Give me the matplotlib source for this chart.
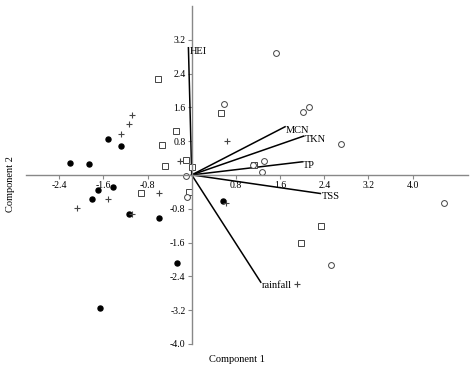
import numpy as np
import matplotlib
matplotlib.use("Agg")
import matplotlib.pyplot as plt

plt.rcParams['font.family'] = ['Liberation Serif', 'DejaVu Serif']

# loading vectors
var_names = ["HEI", "MCN", "TKN", "TP", "TSS", "rainfall"]
var_x = [-0.06, 1.69, 2.03, 2.00, 2.33, 1.25]
var_y = [3.01, 1.14, 0.92, 0.31, -0.44, -2.54]

# scores, one group per marker
dot_x = [-1.52, -1.28, -2.20, -1.86, -1.42, -1.70, -1.80, -1.14, -0.59, -0.27, -1.67, 0.57]
dot_y = [0.86, 0.68, 0.27, 0.25, -0.29, -0.36, -0.56, -0.92, -1.03, -2.09, -3.14, -0.62]

plus_x = [-1.09, -1.14, -1.28, -0.21, 0.64, -0.59, -1.52, -2.07, -1.08, 0.62, 1.91]
plus_y = [1.41, 1.20, 0.98, 0.34, 0.81, -0.42, -0.58, -0.79, -0.93, -0.66, -2.59]

sq_x = [-0.61, -0.28, -0.53, -0.11, -0.49, 0.00, 0.53, 1.12, -0.05, -0.92, 2.34, 1.98]
sq_y = [2.26, 1.05, 0.71, 0.36, 0.22, 0.18, 1.47, 0.23, -0.41, -0.42, -1.22, -1.60]

circ_x = [1.52, 2.01, 2.12, 2.71, 1.30, 1.11, 1.27, 0.59, -0.10, -0.09, 4.56, 2.53]
circ_y = [2.88, 1.49, 1.61, 0.72, 0.34, 0.23, 0.06, 1.67, -0.03, -0.52, -0.66, -2.14]

x_ticks = [-2.4, -1.6, -0.8, 0.8, 1.6, 2.4, 3.2, 4.0]
y_ticks = [-4.0, -3.2, -2.4, -1.6, -0.8, 0.8, 1.6, 2.4, 3.2]

fig = plt.figure(figsize=(4.74, 3.69), dpi=100)
ax = fig.add_axes([0.055, 0.068, 0.932, 0.916])

for name, vx, vy in zip(var_names, var_x, var_y):
    ax.plot([0, vx], [0, vy], color="black", lw=1.1)
    ax.text(vx + 0.02, vy - 0.08, name, fontsize=7.5, ha="left", va="center")

ax.plot(dot_x, dot_y, "o", color="black", ms=3.6, ls="none")
ax.plot(plus_x, plus_y, "+", color="#444444", ms=5, mew=0.8, ls="none")
ax.plot(sq_x, sq_y, "s", mfc="white", mec="#444444", ms=4.2, mew=0.7, ls="none")
ax.plot(circ_x, circ_y, "o", mfc="white", mec="#444444", ms=4.2, mew=0.7, ls="none")

ax.set_xlim(-3, 5)
ax.set_ylim(-4, 4)
ax.spines["left"].set_position(("data", 0))
ax.spines["bottom"].set_position(("data", 0))
ax.spines["top"].set_visible(False)
ax.spines["right"].set_visible(False)
for s in ["left", "bottom"]:
    ax.spines[s].set_color("#888888")
    ax.spines[s].set_linewidth(1.0)

ax.set_xticks(x_ticks)
ax.set_xticklabels([f"{t:.1f}" for t in x_ticks])
ax.set_yticks(y_ticks)
ax.set_yticklabels([f"{t:.1f}" for t in y_ticks])
ax.tick_params(axis="both", labelsize=7, length=3, width=0.8, color="#888888", pad=1.5)

fig.text(0.5, 0.025, "Component 1", fontsize=7.5, ha="center", va="center")
fig.text(0.022, 0.5, "Component 2", fontsize=7.5, ha="center", va="center", rotation=90)

fig.savefig("out.png", dpi=100)
